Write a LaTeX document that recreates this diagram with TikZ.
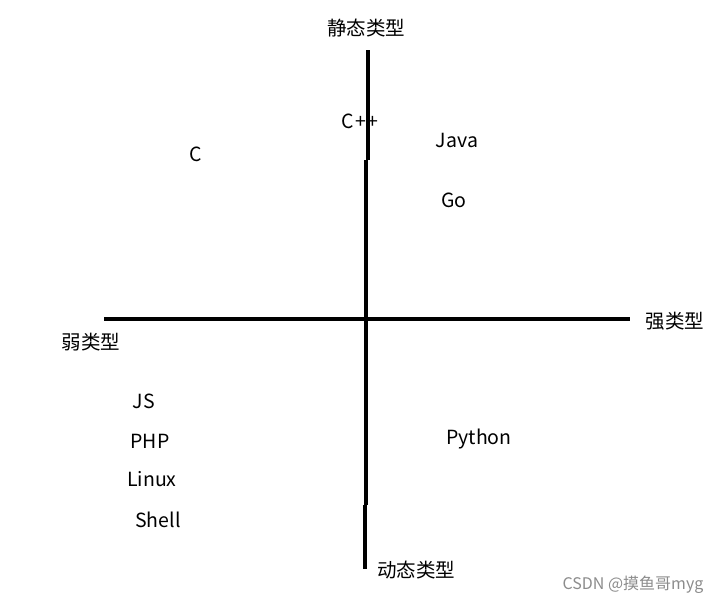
\documentclass[tikz,border=0pt]{standalone}
\usepackage{fontspec}
\setmainfont{Noto Sans CJK SC}
\begin{document}
\begin{tikzpicture}[x=1pt,y=-1pt,
  axis/.style={line width=4.8pt},
  lbl/.style={inner sep=0pt,font=\fontsize{19.5}{21}\selectfont}]
\useasboundingbox[fill=white] (0,0) rectangle (723,605);
% coordinates for axes
\coordinate (vt) at (368,50);
\coordinate (vm1) at (368,160);
\coordinate (vm2) at (366,160);
\coordinate (vm3) at (366,505);
\coordinate (vm4) at (365,505);
\coordinate (vb) at (365,569);
\coordinate (hl) at (104,319);
\coordinate (hr) at (630,319);
\draw[axis] (vt) -- (vm1);
\draw[axis] (vm2) -- (vm3);
\draw[axis] (vm4) -- (vb);
\draw[axis] (hl) -- (hr);
% axis labels
\node[lbl] (static) at (366,28) {静态类型};
\node[lbl] (dynamic) at (416,570) {动态类型};
\node[lbl] (strong) at (675,321) {强类型};
\node[lbl] (weak) at (91,342) {弱类型};
% languages
\node[lbl] (cpp) at (360,121) {C{\kern1pt}+{\kern1pt}+};
\node[lbl] (java) at (457,140) {Java};
\node[lbl] (c) at (196,154) {C};
\node[lbl] (go) at (454,200) {Go};
\node[lbl] (js) at (144,401) {JS};
\node[lbl] (php) at (150,441) {PHP};
\node[lbl] (python) at (479,439) {Python};
\node[lbl] (linux) at (152,479) {Linux};
\node[lbl] (shell) at (158,520) {Shell};
\node[inner sep=0pt,text=black!45,font=\fontsize{16}{18}\selectfont] (wm) at (633,585) {CSDN @摸鱼哥myg};
\end{tikzpicture}
\end{document}
